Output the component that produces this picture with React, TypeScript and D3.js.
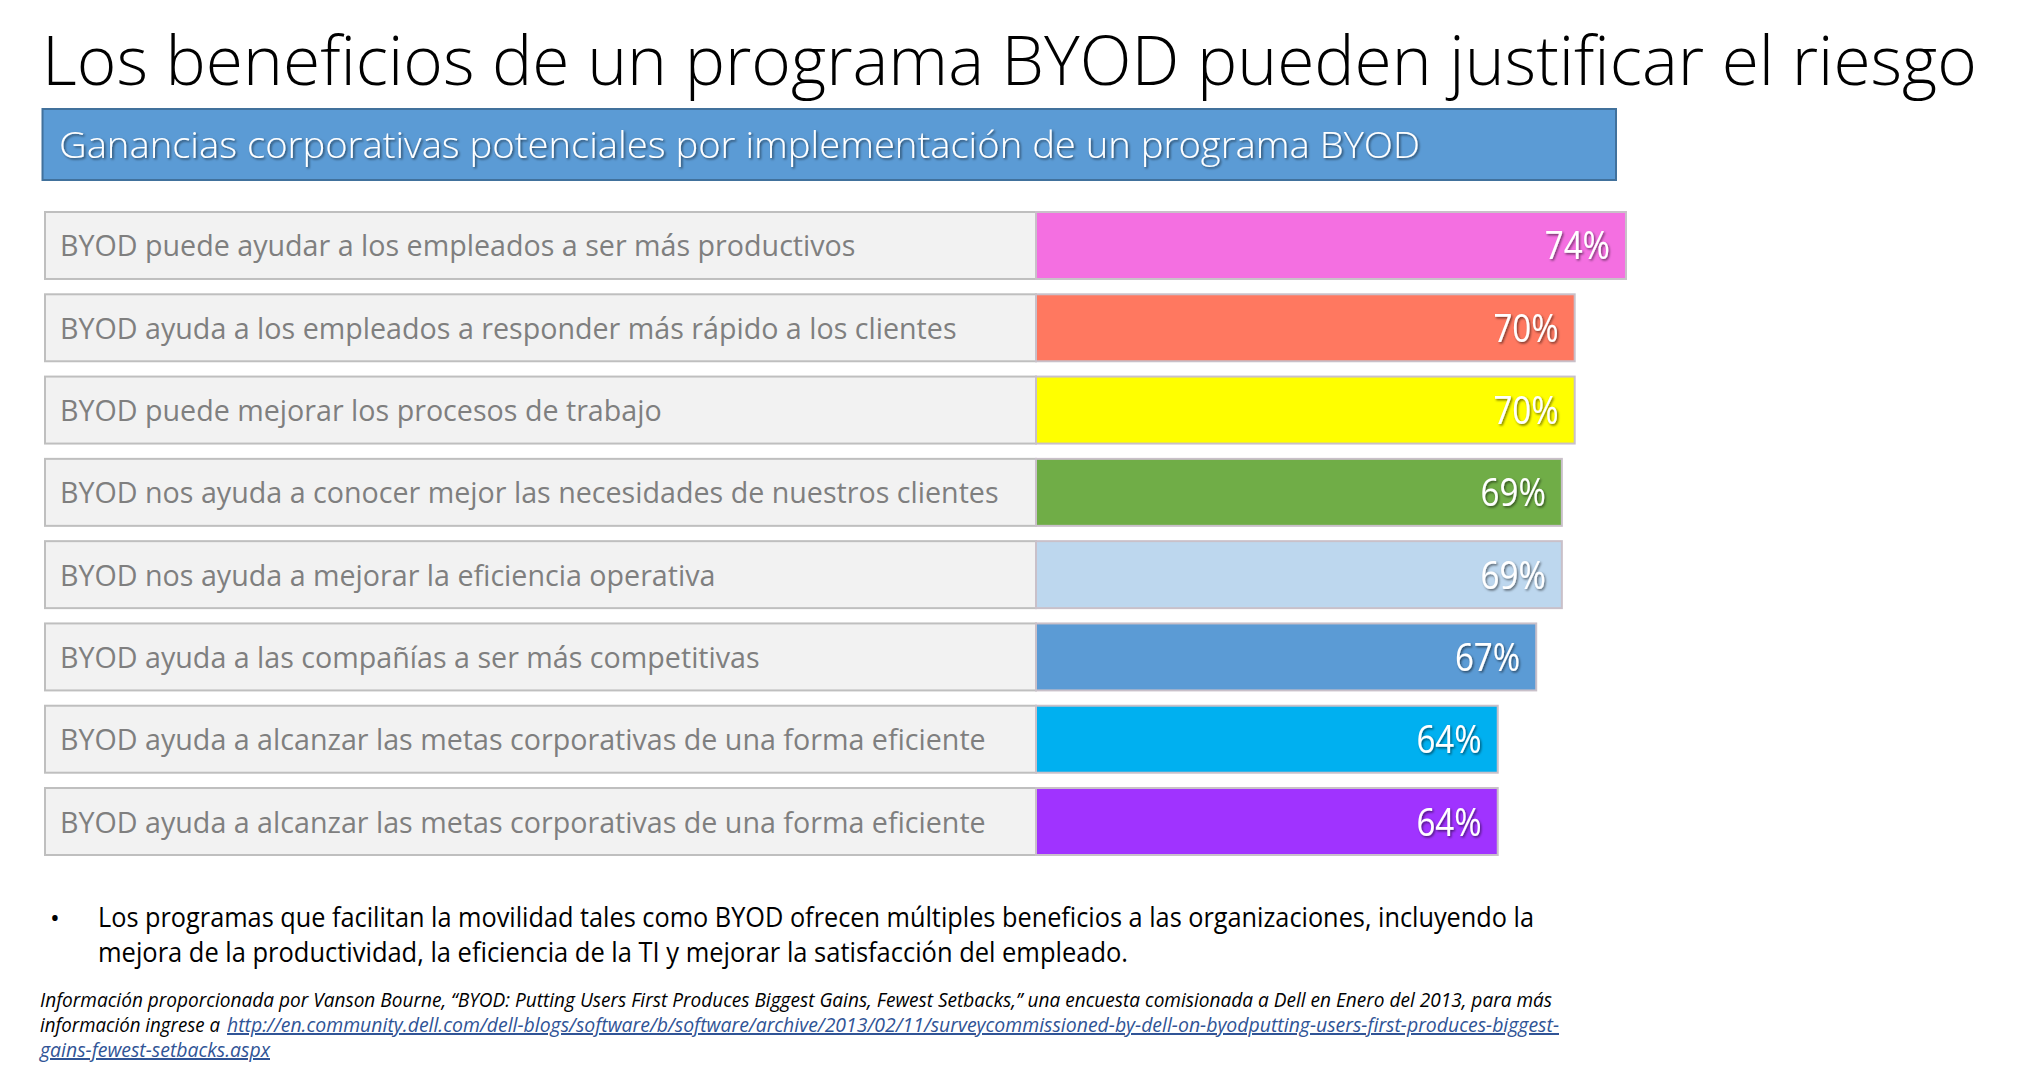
import React from 'react';
import * as d3 from 'd3';

const titleText = 'Los beneficios de un programa BYOD pueden justificar el riesgo';
const headerText = 'Ganancias corporativas potenciales por implementación de un programa BYOD';
const categories = [
  'BYOD puede ayudar a los empleados a ser más productivos',
  'BYOD ayuda a los empleados a responder más rápido a los clientes',
  'BYOD puede mejorar los procesos de trabajo',
  'BYOD nos ayuda a conocer mejor las necesidades de nuestros clientes',
  'BYOD nos ayuda a mejorar la eficiencia operativa',
  'BYOD ayuda a las compañías a ser más competitivas',
  'BYOD ayuda a alcanzar las metas corporativas de una forma eficiente',
  'BYOD ayuda a alcanzar las metas corporativas de una forma eficiente',
];
const values = [74, 70, 70, 69, 69, 67, 64, 64];
const barColors = ['#F46FE1', '#FF7860', '#FFFF00', '#70AD47', '#BDD7EE', '#5B9BD5', '#00B0F0', '#A033FF'];
const bulletLines = [
  'Los programas que facilitan la movilidad tales como BYOD ofrecen múltiples beneficios a las organizaciones, incluyendo la',
  'mejora de la productividad, la eficiencia de la TI y mejorar la satisfacción del empleado.',
];
const noteLine1 = 'Información proporcionada por Vanson Bourne, “BYOD: Putting Users First Produces Biggest Gains, Fewest Setbacks,” una encuesta comisionada a Dell en Enero del 2013, para más';
const noteLine2a = 'información ingrese a';
const noteLink1 = 'http://en.community.dell.com/dell-blogs/software/b/software/archive/2013/02/11/surveycommissioned-by-dell-on-byodputting-users-first-produces-biggest-';
const noteLink2 = 'gains-fewest-setbacks.aspx';

const W = 2019;
const H = 1078;
const font = '"Open Sans", "Noto Sans", sans-serif';

export default function App() {
  const labelX0 = 45;
  const splitX = 1036;
  const y = d3
    .scaleBand<number>()
    .domain(d3.range(categories.length))
    .range([212, 855])
    .paddingInner(0.186)
    .paddingOuter(0);
  const x = d3.scaleLinear().domain([28, 74]).range([0, 590]);

  return (
    <svg width={W} height={H} style={{ position: 'absolute', left: 0, top: 0, background: '#fff' }}>
      <defs>
        <filter id="shadow" x="-10%" y="-20%" width="130%" height="160%">
          <feDropShadow dx="1.5" dy="1.5" stdDeviation="1" floodColor="#000" floodOpacity="0.55" />
        </filter>
      </defs>
      <rect x={0} y={0} width={W} height={H} fill="#fff" />
      <text x={42} y={85} fontFamily={font} fontWeight={300} fontSize={68} fill="#000" textLength={1935} lengthAdjust="spacingAndGlyphs">
        {titleText}
      </text>

      <rect x={42.5} y={109} width={1573.5} height={71} fill="#5B9BD5" stroke="#41719C" strokeWidth={2} />
      <text x={59} y={158} fontFamily={font} fontWeight={300} fontSize={37} fill="#fff" textLength={1361} lengthAdjust="spacingAndGlyphs" filter="url(#shadow)">
        {headerText}
      </text>

      {categories.map((c, i) => {
        const top = y(i)!;
        const bh = y.bandwidth();
        const cy = top + bh / 2;
        const bw = x(values[i]);
        return (
          <g key={i}>
            <rect x={labelX0} y={top} width={splitX - labelX0} height={bh} fill="#F2F2F2" stroke="#BFBFBF" strokeWidth={2} />
            <rect x={splitX} y={top} width={bw} height={bh} fill={barColors[i]} stroke="#C9C0C9" strokeWidth={2} />
            <text transform={`translate(${labelX0 + 15},${cy + 11}) scale(0.955,1)`} fontFamily={font} fontSize={30} fill="#7F7F7F">
              {c}
            </text>
            <text transform={`translate(${splitX + bw - 16},${cy + 14}) scale(0.85,1)`} textAnchor="end" fontFamily={font} fontSize={39} fill="#fff" filter="url(#shadow)">
              {`${values[i]}%`}
            </text>
          </g>
        );
      })}

      <text x={50} y={927} fontFamily={font} fontSize={26} fill="#000">•</text>
      <text x={98} y={927} fontFamily={font} fontSize={27} fill="#000" textLength={1436} lengthAdjust="spacingAndGlyphs">
        {bulletLines[0]}
      </text>
      <text x={98} y={962} fontFamily={font} fontSize={27} fill="#000" textLength={1030} lengthAdjust="spacingAndGlyphs">
        {bulletLines[1]}
      </text>

      <text x={40} y={1007} fontFamily={font} fontStyle="italic" fontSize={20} fill="#000" textLength={1512} lengthAdjust="spacingAndGlyphs">
        {noteLine1}
      </text>
      <text x={40} y={1032} fontFamily={font} fontStyle="italic" fontSize={20} fill="#000" textLength={180} lengthAdjust="spacingAndGlyphs">
        {noteLine2a}
      </text>
      <text x={227} y={1032} fontFamily={font} fontStyle="italic" fontSize={20} fill="#305496" textDecoration="underline" textLength={1332} lengthAdjust="spacingAndGlyphs">
        {noteLink1}
      </text>
      <text x={40} y={1057} fontFamily={font} fontStyle="italic" fontSize={20} fill="#305496" textDecoration="underline" textLength={230} lengthAdjust="spacingAndGlyphs">
        {noteLink2}
      </text>
    </svg>
  );
}
